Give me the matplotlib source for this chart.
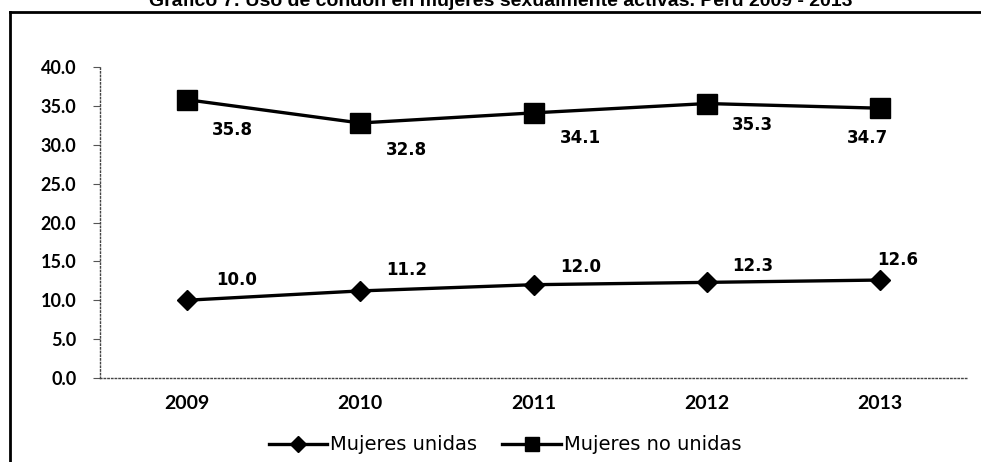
import matplotlib.pyplot as plt
from matplotlib.lines import Line2D

years = ['2009', '2010', '2011', '2012', '2013']
unidas = [10.0, 11.2, 12.0, 12.3, 12.6]
no_unidas = [35.8, 32.8, 34.1, 35.3, 34.7]
yticks = [0, 5, 10, 15, 20, 25, 30, 35, 40]

# label offsets in pixels (dx, dy)
off_unidas = [(50, 20), (47, 21), (47, 18), (46, 16), (17, 20)]
off_no_unidas = [(46, -30), (46, -27), (47, -25), (46, -21), (-13, -30)]

fig = plt.figure(figsize=(9.81, 4.62), dpi=100)
ax = fig.add_axes([100 / 981, 1 - 378 / 462, 867 / 981, 311 / 462])

x = range(len(years))
ax.plot(x, unidas, color='black', lw=2.4, marker='D', ms=10, label='Mujeres unidas')
ax.plot(x, no_unidas, color='black', lw=2.4, marker='s', ms=14, label='Mujeres no unidas')

for i in x:
    ax.annotate(f'{unidas[i]:.1f}', (i, unidas[i]), xytext=off_unidas[i],
                textcoords='offset pixels', ha='center', va='center',
                fontsize=12, fontweight='bold', family='DejaVu Sans')
    ax.annotate(f'{no_unidas[i]:.1f}', (i, no_unidas[i]), xytext=off_no_unidas[i],
                textcoords='offset pixels', ha='center', va='center',
                fontsize=12, fontweight='bold', family='DejaVu Sans')

ax.set_xlim(-0.5, 4.5)
ax.set_ylim(0, 40)
ax.set_xticks(list(x))
ax.set_xticklabels(years, fontsize=14, fontweight='bold', family='Lato')
ax.set_yticks(yticks)
ax.set_yticklabels([f'{v:.1f}' for v in yticks], fontsize=13, fontweight='bold', family='Lato')
ax.tick_params(axis='x', length=0, pad=12)
ax.tick_params(axis='y', length=5, width=0.8, color='#555555', pad=12)
for s in ['top', 'right']:
    ax.spines[s].set_visible(False)
for s in ['left', 'bottom']:
    ax.spines[s].set_linestyle(':')
    ax.spines[s].set_color('#444444')
    ax.spines[s].set_linewidth(1)

handles = [Line2D([], [], color='black', lw=2.4, marker='D', ms=8),
           Line2D([], [], color='black', lw=2.4, marker='s', ms=10)]
fig.legend(handles, ['Mujeres unidas', 'Mujeres no unidas'], loc='center',
           bbox_to_anchor=(505 / 981, 1 - 445 / 462), ncol=2, frameon=False,
           prop={'family': 'DejaVu Sans', 'size': 14}, handlelength=3, handletextpad=0.15,
           columnspacing=1.3)

# outer frame (only left and top edges visible)
fig.add_artist(Line2D([10 / 981, 10 / 981], [0, 1 - 12 / 462], color='black', lw=2))
fig.add_artist(Line2D([10 / 981, 1], [1 - 12 / 462, 1 - 12 / 462], color='black', lw=2))

fig.text(501 / 981, 1 - 6 / 462,
         'Gráfico 7: Uso de condón en mujeres sexualmente activas. Perú 2009 - 2013',
         ha='center', va='baseline', fontsize=14, fontweight='bold', family='Liberation Sans')

fig.savefig('out.png', dpi=100)
